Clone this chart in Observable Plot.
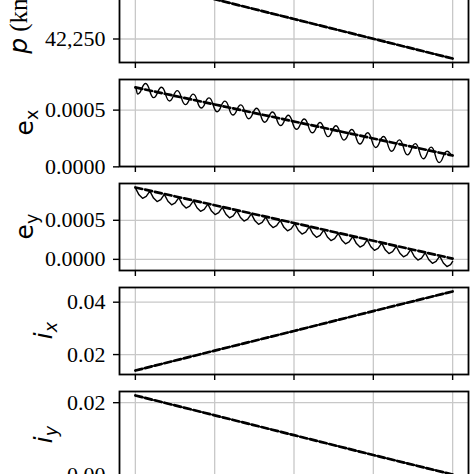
<!DOCTYPE html>
<html><head><meta charset="utf-8">
<script src="https://cdn.jsdelivr.net/npm/d3@7"></script>
<script src="https://cdn.jsdelivr.net/npm/@observablehq/plot@0.6"></script>
<style>
html,body{margin:0;padding:0;background:#fff;overflow:hidden;width:474px;height:474px;}
#fig{position:absolute;left:0;top:-29px;}
#fig svg{display:block;}
#fig g[aria-label="y-axis tick label"]{font-size:22px;}
</style></head><body><div id="fig"></div>
<script>
// x ticks (time, labels cropped in the reference)
const ticksT = [0, 1, 2, 3, 4];

// p (km)
const pT = [0, 1, 2, 3, 4];
const pMean = [42512, 42425, 42338, 42251, 42164];
const pOsc = [42512, 42425, 42338, 42251, 42164];
const pTicks = [42250, 42500];

// e_x
const exMeanT = [0, 1, 2, 3, 4];
const exMean = [0.000700, 0.000550, 0.000400, 0.000250, 0.000100];
const exT = [0, 0.03, 0.13, 0.23, 0.33, 0.43, 0.53, 0.63, 0.73, 0.83, 0.93, 1.03, 1.13, 1.23, 1.33, 1.43, 1.53, 1.63, 1.73, 1.83, 1.93, 2.03, 2.13, 2.23, 2.33, 2.43, 2.53, 2.63, 2.73, 2.83, 2.93, 3.03, 3.13, 3.23, 3.33, 3.43, 3.53, 3.63, 3.73, 3.83, 3.93, 4.0];
const exOsc = [0.000700, 0.000642, 0.000735, 0.000610, 0.000701, 0.000581, 0.000672, 0.000548, 0.000641, 0.000519, 0.000608, 0.000486, 0.000579, 0.000457, 0.000546, 0.000424, 0.000517, 0.000393, 0.000484, 0.000364, 0.000455, 0.000331, 0.000422, 0.000300, 0.000391, 0.000266, 0.000362, 0.000236, 0.000329, 0.000201, 0.000300, 0.000171, 0.000267, 0.000137, 0.000238, 0.000106, 0.000205, 0.000071, 0.000174, 0.000038, 0.000138, 0.000105];
const eTicks = [0, 0.0005];

// e_y
const eyMeanT = [0, 1, 2, 3, 4];
const eyMean = [0.000920, 0.0006925, 0.000465, 0.0002375, 0.000010];
const eyT = [0, 0.046, 0.091, 0.137, 0.183, 0.229, 0.274, 0.320, 0.365, 0.411, 0.457, 0.502, 0.548, 0.594, 0.639, 0.685, 0.731, 0.777, 0.822, 0.868, 0.914, 0.960, 1.005, 1.051, 1.096, 1.142, 1.187, 1.233, 1.279, 1.325, 1.370, 1.416, 1.462, 1.508, 1.553, 1.599, 1.644, 1.690, 1.735, 1.781, 1.827, 1.873, 1.918, 1.964, 2.010, 2.056, 2.101, 2.147, 2.192, 2.238, 2.283, 2.329, 2.375, 2.421, 2.466, 2.512, 2.558, 2.604, 2.649, 2.695, 2.741, 2.787, 2.832, 2.878, 2.923, 2.969, 3.014, 3.060, 3.106, 3.152, 3.197, 3.243, 3.289, 3.335, 3.380, 3.426, 3.471, 3.517, 3.562, 3.608, 3.654, 3.700, 3.745, 3.791, 3.837, 3.883, 3.928, 3.974, 4.000];
const eyOsc = [0.000915, 0.000826, 0.000781, 0.000805, 0.000873, 0.000784, 0.000739, 0.000763, 0.000832, 0.000743, 0.000698, 0.000722, 0.000790, 0.000701, 0.000656, 0.000680, 0.000749, 0.000660, 0.000615, 0.000639, 0.000707, 0.000618, 0.000573, 0.000597, 0.000666, 0.000577, 0.000532, 0.000556, 0.000624, 0.000535, 0.000490, 0.000514, 0.000582, 0.000493, 0.000448, 0.000472, 0.000541, 0.000452, 0.000407, 0.000431, 0.000499, 0.000410, 0.000365, 0.000389, 0.000458, 0.000369, 0.000324, 0.000348, 0.000416, 0.000327, 0.000282, 0.000306, 0.000375, 0.000286, 0.000241, 0.000265, 0.000333, 0.000244, 0.000199, 0.000223, 0.000291, 0.000202, 0.000157, 0.000181, 0.000250, 0.000161, 0.000116, 0.000140, 0.000208, 0.000119, 0.000074, 0.000098, 0.000167, 0.000078, 0.000033, 0.000057, 0.000125, 0.000036, -0.000009, 0.000015, 0.000084, -0.000005, -0.000050, -0.000026, 0.000042, -0.000047, -0.000092, -0.000068, -0.000025];

// i_x
const ixT = [0, 1, 2, 3, 4];
const ixMean = [0.0139, 0.0215, 0.0290, 0.0366, 0.0441];
const ixOsc = [0.0139, 0.0215, 0.0290, 0.0366, 0.0441];
const ixTicks = [0.02, 0.04];

// i_y
const iyT = [0, 1, 2, 3, 4];
const iyMean = [0.0220, 0.0165, 0.0110, 0.0055, 0.0001];
const iyOsc = [0.0220, 0.0165, 0.0110, 0.0055, 0.0001];
const iyTicks = [0, 0.02];

const rows = (ts, vs) => ts.map((t, i) => ({t, v: vs[i]}));
const padded = (...arrs) => {
  const ext = d3.extent(arrs.flat());
  const r = ext[1] - ext[0];
  return [ext[0] - 0.05 * r, ext[1] + 0.05 * r];
};

const SERIF = "'Liberation Serif','Times New Roman',serif";
const SANS = "'DejaVu Sans',sans-serif";
const LABEL_SIZE = 25;

function panel({mean, osc, oscCurve, yTicks, yFormat, label, labelX}) {
  const svg = Plot.plot({
    width: 474, height: 104,
    marginTop: 4, marginBottom: 13, marginLeft: 119, marginRight: 6,
    style: {fontFamily: SERIF, fontSize: "22px", background: "transparent", color: "black", overflow: "visible"},
    x: {domain: [-0.2, 4.2]},
    y: {domain: padded(mean.map(d => d.v), osc.map(d => d.v))},
    marks: [
      Plot.gridX({ticks: ticksT, stroke: "#c8c8c8", strokeOpacity: 1, strokeWidth: 1.3}),
      Plot.gridY({ticks: yTicks, stroke: "#c8c8c8", strokeOpacity: 1, strokeWidth: 1.3}),
      Plot.line(osc, {x: "t", y: "v", stroke: "black", strokeWidth: 1.4, curve: oscCurve || "linear"}),
      Plot.line(mean, {x: "t", y: "v", stroke: "black", strokeWidth: 2.7, strokeDasharray: "7,3"}),
      Plot.frame({stroke: "black", strokeWidth: 1.8}),
      Plot.axisX({ticks: ticksT, tickSize: 6, tickFormat: () => "", strokeWidth: 1.4, label: null}),
      Plot.axisY({ticks: yTicks, tickSize: 6, tickPadding: 8, tickFormat: yFormat, fontSize: 22, strokeWidth: 1.4, label: null})
    ]
  });
  const cy = 4 + 87 / 2;
  const t = d3.select(svg).append("text")
    .attr("transform", `translate(${labelX},${cy}) rotate(-90)`)
    .attr("text-anchor", "middle")
    .attr("fill", "black");
  label.forEach(p => {
    const ts = t.append("tspan").text(p.text)
      .attr("font-family", p.family)
      .attr("font-size", p.size)
      .attr("font-style", p.style || "normal");
    if (p.dy) ts.attr("dy", p.dy);
  });
  document.getElementById("fig").appendChild(svg);
}

panel({
  mean: rows(pT, pMean), osc: rows(pT, pOsc), yTicks: pTicks, yFormat: d3.format(","),
  labelX: 27,
  label: [{text: "p", family: SANS, size: LABEL_SIZE, style: "italic"}, {text: " (km)", family: SERIF, size: LABEL_SIZE}]
});
panel({
  mean: rows(exMeanT, exMean), osc: rows(exT, exOsc), oscCurve: "bump-x", yTicks: eTicks, yFormat: d3.format(".4f"),
  labelX: 33,
  label: [{text: "e", family: SANS, size: LABEL_SIZE}, {text: "x", family: SANS, size: LABEL_SIZE * 0.7, dy: "0.3em"}]
});
panel({
  mean: rows(eyMeanT, eyMean), osc: rows(eyT, eyOsc), yTicks: eTicks, yFormat: d3.format(".4f"),
  labelX: 33,
  label: [{text: "e", family: SANS, size: LABEL_SIZE}, {text: "y", family: SANS, size: LABEL_SIZE * 0.7, dy: "0.3em"}]
});
panel({
  mean: rows(ixT, ixMean), osc: rows(ixT, ixOsc), yTicks: ixTicks, yFormat: d3.format(".2f"),
  labelX: 52,
  label: [{text: "i", family: SANS, size: LABEL_SIZE, style: "italic"}, {text: "x", family: SANS, size: LABEL_SIZE * 0.7, style: "italic", dy: "0.3em"}]
});
panel({
  mean: rows(iyT, iyMean), osc: rows(iyT, iyOsc), yTicks: iyTicks, yFormat: d3.format(".2f"),
  labelX: 52,
  label: [{text: "i", family: SANS, size: LABEL_SIZE, style: "italic"}, {text: "y", family: SANS, size: LABEL_SIZE * 0.7, style: "italic", dy: "0.3em"}]
});
</script></body></html>
